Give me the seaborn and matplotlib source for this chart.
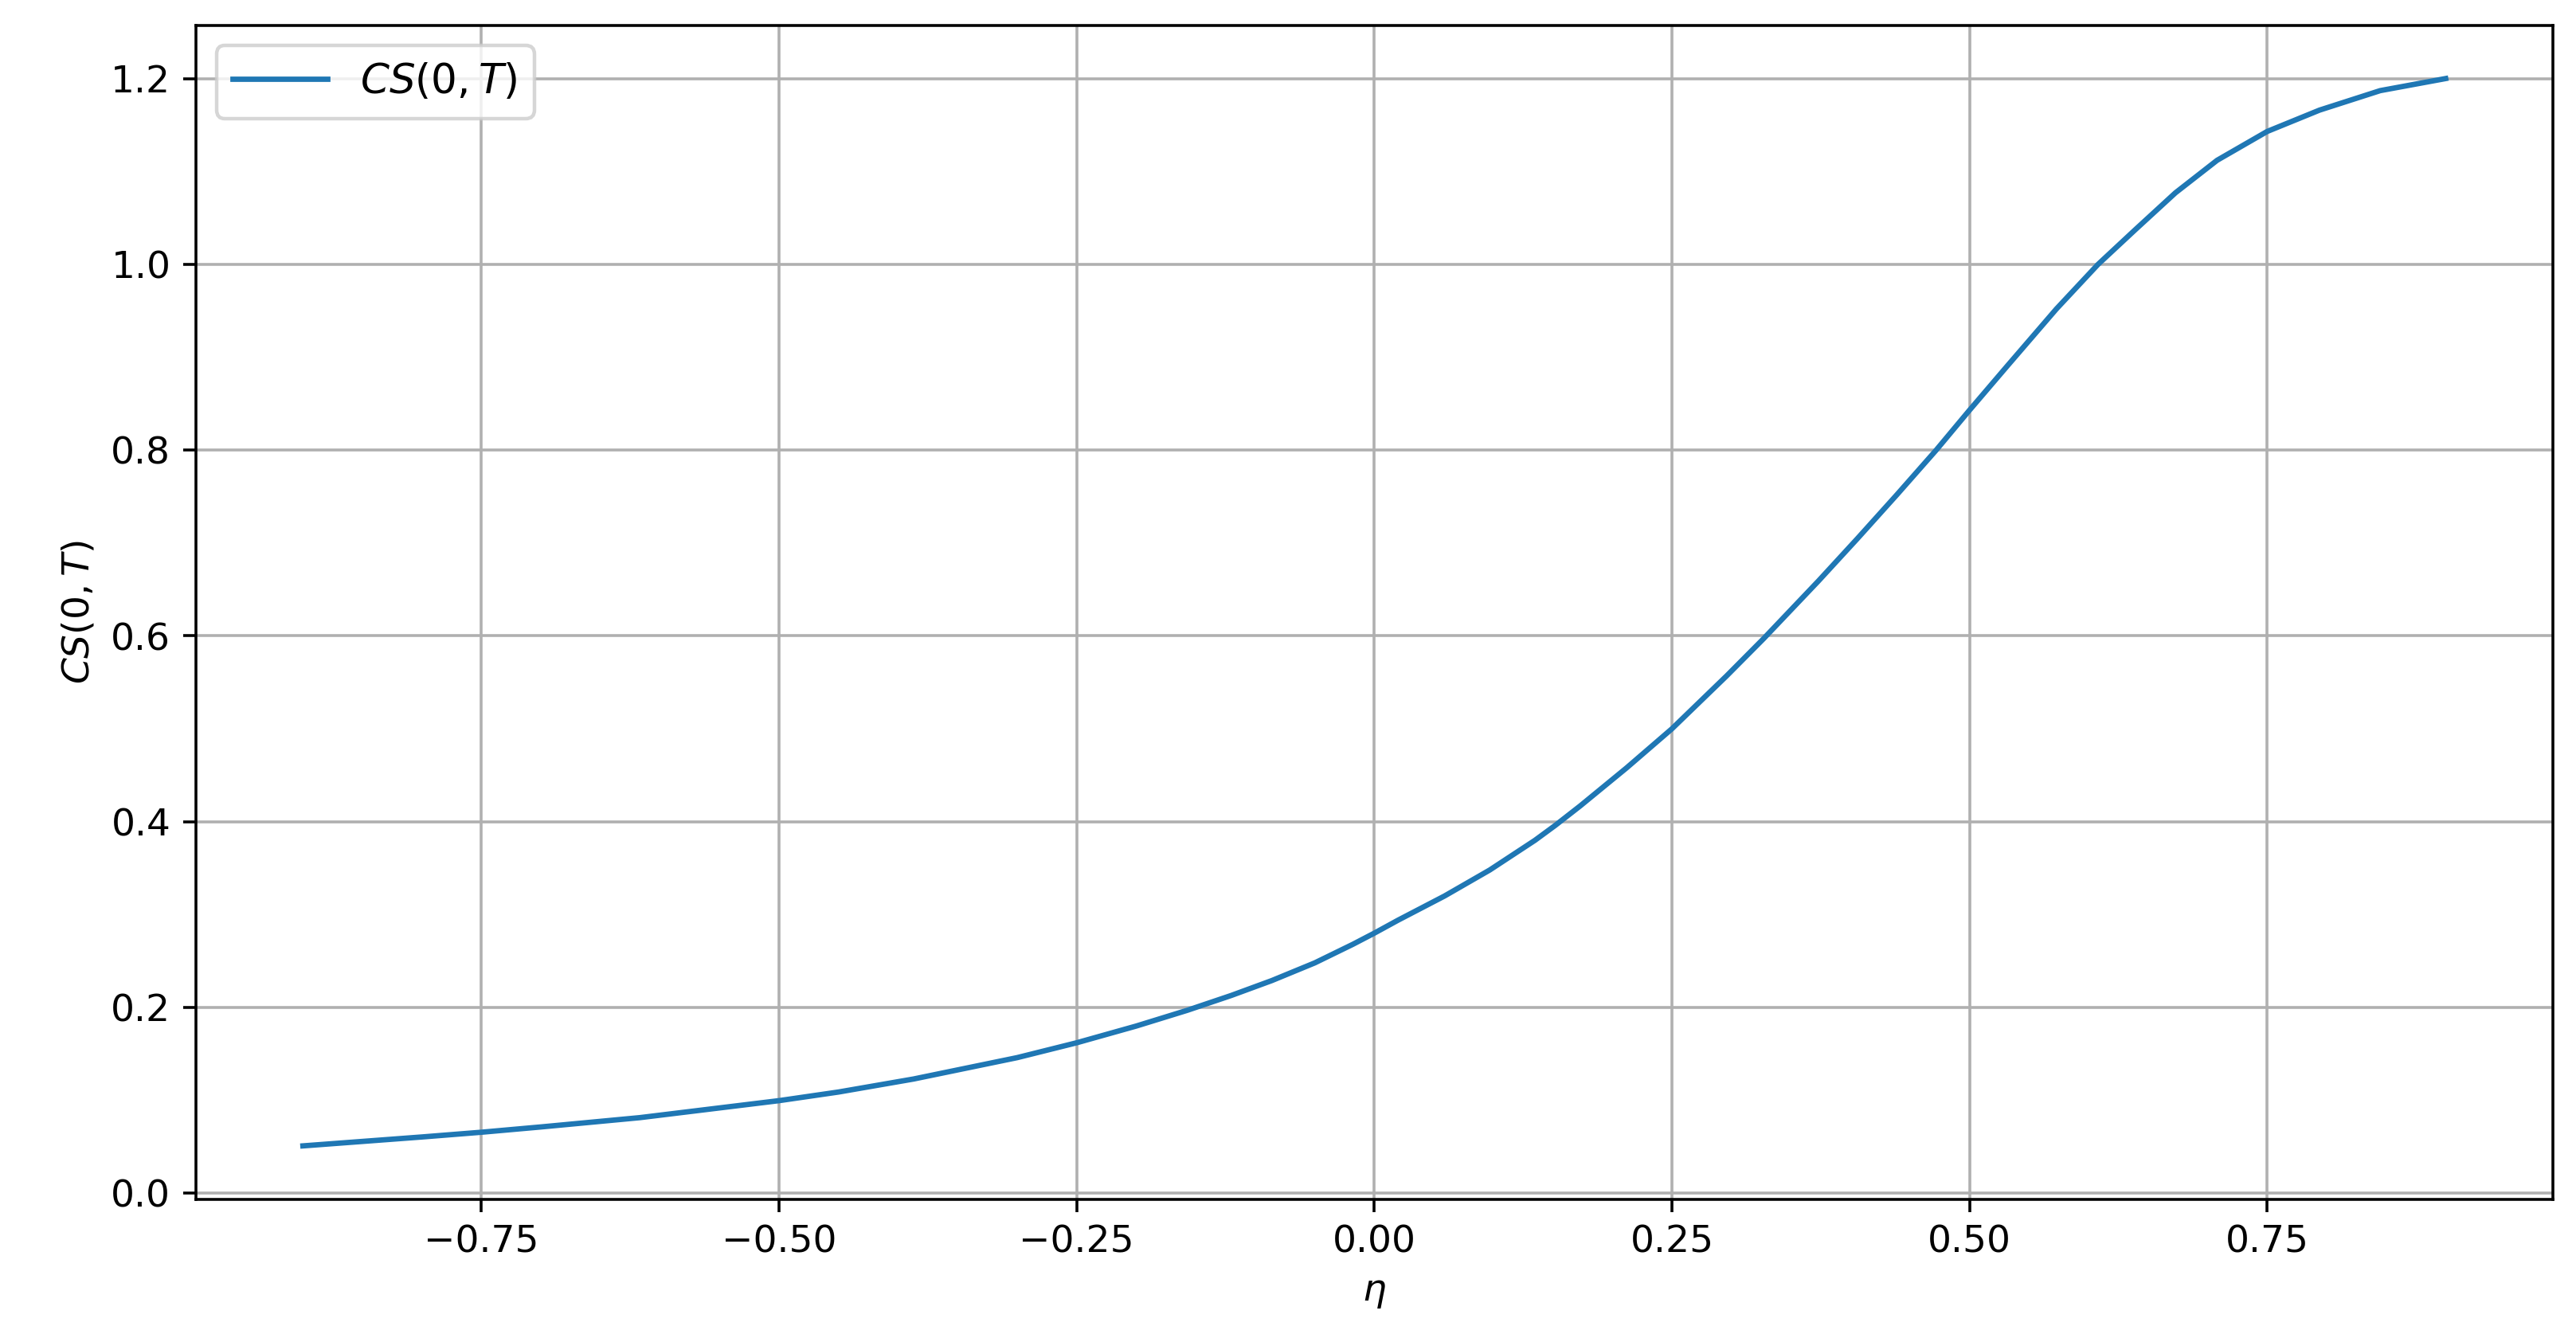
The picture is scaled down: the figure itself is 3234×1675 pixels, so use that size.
import matplotlib
matplotlib.use("Agg")
import matplotlib.pyplot as plt
import seaborn as sns
import pandas as pd

# values
eta = [-0.9, -0.8, -0.75, -0.7, -0.617, -0.5, -0.45, -0.387, -0.3, -0.25,
       -0.2, -0.157, -0.12, -0.086, -0.05, -0.018, 0.0, 0.02, 0.059, 0.097,
       0.135, 0.152, 0.173, 0.212, 0.25, 0.296, 0.327, 0.373, 0.406, 0.439,
       0.472, 0.5, 0.532, 0.573, 0.608, 0.639, 0.673, 0.708, 0.75, 0.794,
       0.845, 0.9]
cs = [0.051, 0.0606, 0.0657, 0.0714, 0.0814, 0.0997, 0.109, 0.123, 0.146, 0.162,
      0.180, 0.197, 0.213, 0.229, 0.248, 0.268, 0.28, 0.294, 0.320, 0.348,
      0.380, 0.396, 0.417, 0.458, 0.500, 0.557, 0.597, 0.659, 0.705, 0.752,
      0.800, 0.843, 0.891, 0.952, 1.0, 1.037, 1.077, 1.112, 1.143, 1.166,
      1.187, 1.2]

df = pd.DataFrame({"eta": eta, "cs": cs})

fig, ax = plt.subplots(figsize=(10, 5.18), dpi=323.4)
sns.lineplot(data=df, x="eta", y="cs", ax=ax, color="#1f77b4",
             linewidth=1.5, label=r"$CS(0,T)$")
ax.grid(True)
ax.set_xlabel(r"$\eta$", fontsize=10.5)
ax.set_ylabel(r"$CS(0,T)$", fontsize=10.5)
ax.tick_params(labelsize=10.5)
ax.legend(loc="upper left", fontsize=11.5, handlelength=2.3)

plt.subplots_adjust(left=0.076, right=0.991, top=0.981, bottom=0.101)
plt.savefig("out.png", dpi=323.4)
